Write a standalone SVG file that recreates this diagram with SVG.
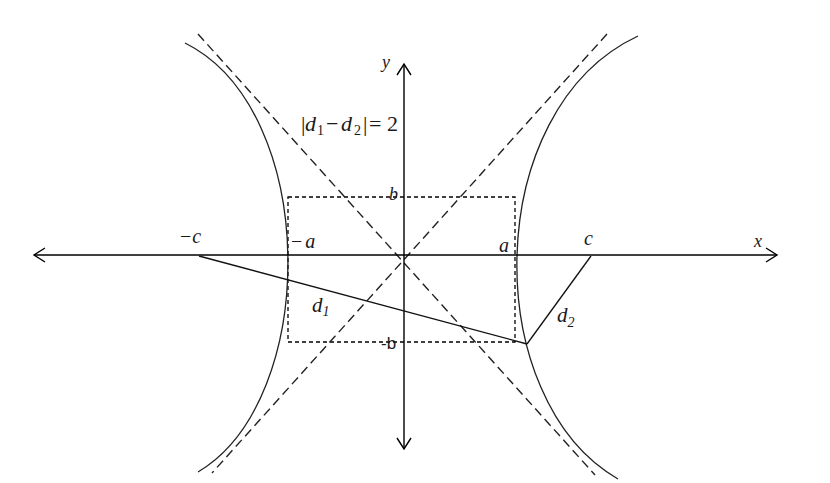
<svg xmlns="http://www.w3.org/2000/svg" width="830" height="483" viewBox="0 0 830 483">
<defs>
<style>
.ax{stroke:#000;stroke-width:1.4;fill:none}
.ah{stroke:#000;stroke-width:1.4;fill:none;stroke-linejoin:miter}
.cv{stroke:#222;stroke-width:1.3;fill:none}
.as{stroke:#222;stroke-width:1.4;fill:none;stroke-dasharray:9 5}
.rc{stroke:#000;stroke-width:1.3;fill:none;stroke-dasharray:4 3}
.sg{stroke:#111;stroke-width:1.3;fill:none}
.t{font-family:"Liberation Serif",serif;font-style:italic;fill:#1a1a1a}
.u{font-family:"Liberation Serif",serif;fill:#1a1a1a}
.s{font-family:"Liberation Sans",Arial,sans-serif;fill:#1a1a1a}
</style>
</defs>
<rect width="830" height="483" fill="#fff"/>
<g id="rectangle">
<rect class="rc" x="288" y="197" width="227" height="145"/>
</g>
<g id="asymptotes">
<line class="as" x1="198" y1="34" x2="595" y2="475"/>
<line class="as" x1="607" y1="34" x2="212" y2="473"/>
</g>
<g id="hyperbola">
<path class="cv" d="M185,43 C320,110 320,400 198,472"/>
<path class="cv" d="M638,36 C480,110 480,400 618,479"/>
</g>
<g id="axes">
<line class="ax" x1="34" y1="255" x2="777" y2="255"/>
<polyline class="ah" points="45,248 34,255 45,262"/>
<polyline class="ah" points="766,248 777,255 766,262"/>
<line class="ax" x1="404" y1="64" x2="404" y2="449"/>
<polyline class="ah" points="397,75 404,64 411,75"/>
<polyline class="ah" points="397,438 404,449 411,438"/>
</g>
<g id="segments">
<line class="sg" x1="199" y1="256" x2="527" y2="344"/>
<line class="sg" x1="591" y1="256" x2="527" y2="344"/>
</g>
<g id="labels">
<text class="t" x="382" y="68" font-size="18">y</text>
<text class="t" x="754" y="247" font-size="18">x</text>
<text class="u" x="180" y="243" font-size="20">−<tspan class="t" dx="1">c</tspan></text>
<text class="u" x="291" y="248" font-size="20">−<tspan class="t" dx="3">a</tspan></text>
<text class="t" x="499" y="252" font-size="20">a</text>
<text class="t" x="584" y="245" font-size="20">c</text>
<text class="t" x="389" y="200" font-size="18">b</text>
<text class="s" x="381" y="349" font-size="17">-b</text>
<text class="t" x="312" y="312" font-size="21">d<tspan class="u" font-size="14" dy="4">1</tspan></text>
<text class="t" x="557" y="322" font-size="21">d<tspan class="u" font-size="14" dy="5">2</tspan></text>
<text class="u" font-size="22" y="131"><tspan x="301">|</tspan><tspan class="t" x="305">d</tspan><tspan x="317" font-size="14" dy="4">1</tspan><tspan x="326" dy="-4">−</tspan><tspan class="t" x="341">d</tspan><tspan x="354" font-size="14" dy="4">2</tspan><tspan x="363" dy="-4">|</tspan><tspan x="369">=</tspan><tspan x="387">2</tspan></text>
</g>
</svg>
